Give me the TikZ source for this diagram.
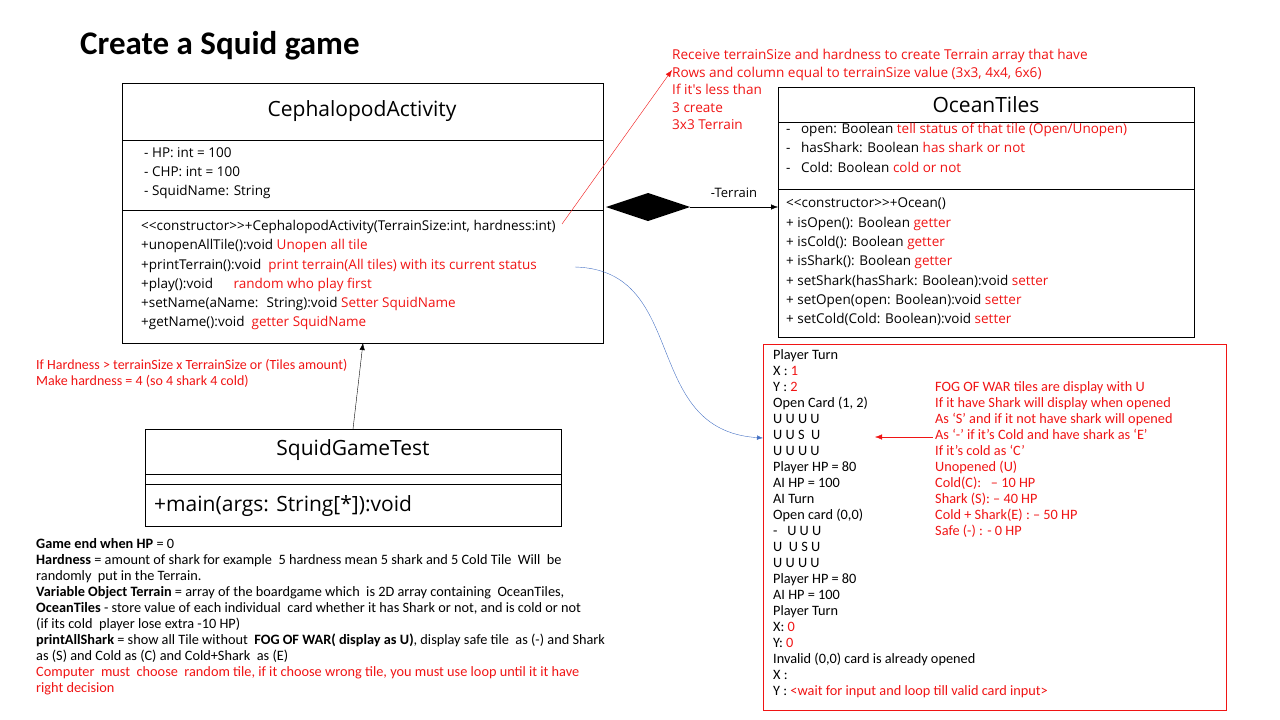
\documentclass[tikz,border=0pt]{standalone}
\usepackage{fontspec}
\setmainfont{Carlito}
\newfontfamily\osans{Open Sans}
\usetikzlibrary{arrows.meta}
\definecolor{rd}{RGB}{240,20,20}
\definecolor{bl}{RGB}{70,114,196}
\begin{document}
\begin{tikzpicture}[x=1pt,y=-1pt,
  txt/.style={anchor=west,inner sep=0pt,font=\fontsize{14}{16}\selectfont,align=left},
  cls/.style={anchor=north west,inner sep=0pt,font=\osans\fontsize{13.5}{19.3}\selectfont,align=left},
  box/.style={draw,line width=0.8pt}]
\useasboundingbox (0,0) rectangle (1280,720);
\node[anchor=west,inner sep=0pt,font=\bfseries\fontsize{33}{33}\selectfont] (title) at (80,46) {Create a Squid game};
% Cephalopod
\draw[box] (122,83) rectangle (603,343);
\draw (122,140) -- (603,140) (122,210) -- (603,210);
\node[font=\osans\fontsize{21}{21}\selectfont] (ceph) at (362,111) {CephalopodActivity};
\node[cls] (cattr) at (144,147) {- HP: int = 100\\- CHP: int = 100\\- SquidName: String};
\node[cls] (cmeth) at (141,220) {<<constructor>>+CephalopodActivity(TerrainSize:int, hardness:int)\\
+unopenAllTile():void \textcolor{rd}{Unopen all tile}\\
+printTerrain():void \ \textcolor{rd}{print terrain(All tiles) with its current status}\\
+play():void \quad\ \textcolor{rd}{random who play first}\\
+setName(aName: \ String):void \textcolor{rd}{Setter SquidName}\\
+getName():void \ \textcolor{rd}{getter SquidName}};
% OceanTiles
\draw[box] (778,87) rectangle (1194,337);
\draw (778,122) -- (1194,122) (778,189) -- (1194,189);
\node[font=\osans\fontsize{21}{21}\selectfont] (ocean) at (986,105) {OceanTiles};
\node[cls] (oattr) at (786,123) {- \ \ open: Boolean \textcolor{rd}{tell status of that tile (Open/Unopen)}\\
- \ \ hasShark: Boolean \textcolor{rd}{has shark or not}\\
- \ \ Cold: Boolean \textcolor{rd}{cold or not}};
\node[cls] (ometh) at (786,198) {<<constructor>>+Ocean()\\+ isOpen(): Boolean \textcolor{rd}{getter}\\+ isCold(): Boolean \textcolor{rd}{getter}\\+ isShark(): Boolean \textcolor{rd}{getter}\\+ setShark(hasShark: Boolean):void \textcolor{rd}{setter}\\+ setOpen(open: Boolean):void \textcolor{rd}{setter}\\+ setCold(Cold: Boolean):void \textcolor{rd}{setter}};
% composition
\node[inner sep=0pt,minimum size=0pt] (dia) at (606,207) {};
\fill (606,207) -- (648,193) -- (690,207) -- (648,221) -- cycle;
\coordinate (dr) at (690,207);
\coordinate (ol) at (778,207);
\draw[-{Latex[length=7pt]}] (dr) -- (ol) node[midway,above=6pt,font=\osans\fontsize{13}{13}\selectfont] (terr) {-Terrain};
% top red note
\node[anchor=north west,inner sep=0pt,text=rd,font=\osans\fontsize{13.6}{17.5}\selectfont,align=left] (note) at (672,49) {Receive terrainSize and hardness to create Terrain array that have\\Rows and column equal to terrainSize value (3x3, 4x4, 6x6)\\If it's less than\\3 create\\3x3 Terrain};
\coordinate (cs) at (562,224);
\coordinate (ne) at (672,70);
\draw[rd,-{Latex[length=7pt]}] (cs) -- (ne);
% SquidGameTest
\draw[box] (145,429) rectangle (561,526);
\draw (145,474) -- (561,474) (145,484) -- (561,484);
\node[font=\osans\fontsize{21}{21}\selectfont] (sgt) at (353,450) {SquidGameTest};
\node[anchor=west,inner sep=0pt,font=\osans\fontsize{21}{21}\selectfont] (main) at (154,506) {+main(args: String[*]):void};
\coordinate (st) at (353,429);
\coordinate (cb) at (363,343);
\draw[-{Latex[length=7pt]}] (st) -- (cb);
\node[txt,text=rd] (hn) at (36,373) {If Hardness > terrainSize x TerrainSize or (Tiles amount)\\Make hardness = 4 (so 4 shark 4 cold)};
% bottom notes
\node[anchor=north west,inner sep=0pt,font=\fontsize{14.3}{16}\selectfont,align=left] (desc) at (36,538) {\textbf{Game end when HP} = 0\\
\textbf{Hardness} = amount of shark for example \ 5 hardness mean 5 shark and 5 Cold Tile \ Will \ be\\
randomly \ put in the Terrain.\\
\textbf{Variable Object Terrain} = array of the boardgame which \ is 2D array containing \ OceanTiles,\\
\textbf{OceanTiles} - store value of each individual \ card whether it has Shark or not, and is cold or not\\
(if its cold \ player lose extra -10 HP)\\
\textbf{printAllShark} = show all Tile without \ \textbf{FOG OF WAR( display as U)}, display safe tile \ as (-) and Shark\\
as (S) and Cold as (C) and Cold+Shark \ as (E)\\
\textcolor{rd}{Computer \ must \ choose \ random tile, if it choose wrong tile, you must use loop until it it have}\\
\textcolor{rd}{right decision}};
% right box
\draw[rd,line width=0.8pt] (763,344) rectangle (1226,710);
\node[anchor=north west,inner sep=0pt,font=\fontsize{14.3}{16}\selectfont,align=left] (log) at (773,349) {Player Turn\\X : \textcolor{rd}{1}\\Y : \textcolor{rd}{2}\\Open Card (1, 2)\\U U U U\\U U S \ U\\U U U U\\Player HP = 80\\AI HP = 100\\AI Turn\\Open card (0,0)\\- \ \ U U U\\U \ U S U\\U U U U\\Player HP = 80\\AI HP = 100\\Player Turn\\X: \textcolor{rd}{0}\\Y: \textcolor{rd}{0}\\Invalid (0,0) card is already opened\\X :\\Y : \textcolor{rd}{<wait for input and loop till valid card input>}};
\node[anchor=north west,inner sep=0pt,text=rd,font=\fontsize{14.3}{16}\selectfont,align=left] (fog) at (935,381) {FOG OF WAR tiles are display with U\\If it have Shark will display when opened\\As `S' and if it not have shark will opened\\As `-' if it's Cold and have shark as `E'\\If it's cold as `C'\\Unopened (U)\\Cold(C): \ \ -- 10 HP\\Shark (S): -- 40 HP\\Cold + Shark(E) : -- 50 HP\\Safe (-) : - 0 HP};
\coordinate (fa) at (933,437);
\coordinate (fb) at (875,437);
\draw[rd,-{Latex[length=7pt]}] (fa) -- (fb);
\coordinate (pb) at (575,267);
\coordinate (lb) at (763,438);
\draw[bl,-{Latex[length=6pt]}] (pb) .. controls (690,270) and (640,430) .. (lb);
\end{tikzpicture}
\end{document}
